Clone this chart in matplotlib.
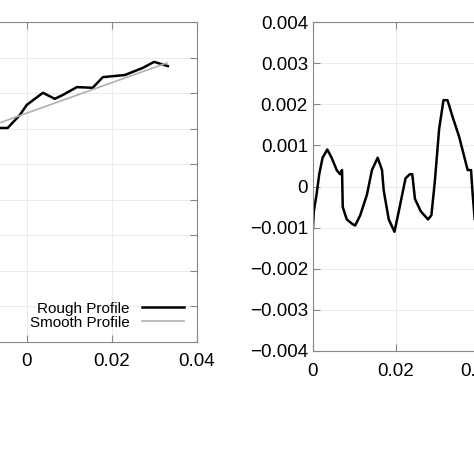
import matplotlib
matplotlib.use("Agg")
import matplotlib.pyplot as plt

plt.rcParams['font.family'] = ['Liberation Sans', 'DejaVu Sans']

# Left panel: profiles
rough_x = [-0.0065, -0.0045, -0.0016, 0.0, 0.0038, 0.0066, 0.0085, 0.0118, 0.0155, 0.0179, 0.0231, 0.0273, 0.0300, 0.0332]
rough_y = [0.00102, 0.00102, 0.00139, 0.00167, 0.00201, 0.00184, 0.00195, 0.00217, 0.00215, 0.00245, 0.00251, 0.00271, 0.00288, 0.00276]
smooth_x = [-0.0065, 0.033]
smooth_y = [0.00116, 0.00285]

# Right panel: roughness
diff_x = [0, 0.00024, 0.00089, 0.00154, 0.00235, 0.00348, 0.00453, 0.00575, 0.00656, 0.00704, 0.00721,
          0.00818, 0.00939, 0.0102, 0.01142, 0.01304, 0.01425, 0.01563, 0.01668, 0.01709, 0.0183,
          0.01968, 0.02073, 0.02235, 0.0234, 0.02397, 0.02462, 0.026, 0.02777, 0.02858, 0.02939,
          0.03045, 0.0315, 0.03247, 0.03368, 0.0353, 0.03733, 0.03814, 0.03854, 0.03903, 0.0400]
diff_y = [-0.00105, -0.0006, -0.0002, 0.0003, 0.0007, 0.0009, 0.0007, 0.0004, 0.0003, 0.0004, -0.0005,
          -0.0008, -0.0009, -0.00095, -0.0007, -0.0002, 0.0004, 0.0007, 0.0004, -0.0001, -0.0008,
          -0.0011, -0.0006, 0.0002, 0.0003, 0.0003, -0.0003, -0.0006, -0.0008, -0.0007, 0.0001,
          0.0014, 0.0021, 0.0021, 0.0017, 0.0012, 0.0004, 0.0004, -0.0002, -0.0008, -0.0009]

fig = plt.figure(figsize=(4.74, 4.74), dpi=100)

def style(ax):
    ax.grid(True, color='#e8e8e8', linewidth=0.6)
    ax.tick_params(direction='in', top=True, right=True, length=5, labelsize=13.5, color='#888888')
    for s in ax.spines.values():
        s.set_color('#888888')

ax1 = fig.add_axes([-0.302, 0.2785, 0.717, 0.675])
ax1.plot(rough_x, rough_y, color='black', lw=1.8, label='Rough Profile')
ax1.plot(smooth_x, smooth_y, color='#b0b0b0', lw=1.2, label='Smooth Profile')
ax1.set_xlim(-0.04, 0.04)
ax1.set_ylim(-0.005, 0.004)
ax1.set_xticks([-0.04, -0.02, 0, 0.02, 0.04])
ax1.set_xticklabels(['-0.04', '-0.02', '0', '0.02', '0.04'])
ax1.set_yticks([-0.005 + 0.001 * i for i in range(10)])
ax1.set_yticklabels([])
style(ax1)
ax1.tick_params(axis='x', pad=8)
ax1.legend(loc='lower right', frameon=False, markerfirst=False, fontsize=11,
           handlelength=2.8, labelspacing=0.0, borderaxespad=0.4)

ax2 = fig.add_axes([0.660, 0.2595, 0.525, 0.694])
ax2.plot(diff_x, diff_y, color='black', lw=1.8)
ax2.set_xlim(0, 0.06)
ax2.set_ylim(-0.004, 0.004)
ax2.set_xticks([0, 0.02, 0.04, 0.06])
ax2.set_xticklabels(['0', '0.02', '0.04', '0.06'])
ax2.set_yticks([-0.004, -0.003, -0.002, -0.001, 0, 0.001, 0.002, 0.003, 0.004])
ax2.set_yticklabels(['\u22120.004', '\u22120.003', '\u22120.002', '\u22120.001', '0',
                     '0.001', '0.002', '0.003', '0.004'])
style(ax2)
ax2.tick_params(axis='x', pad=9)

fig.savefig('out.png', dpi=100)
